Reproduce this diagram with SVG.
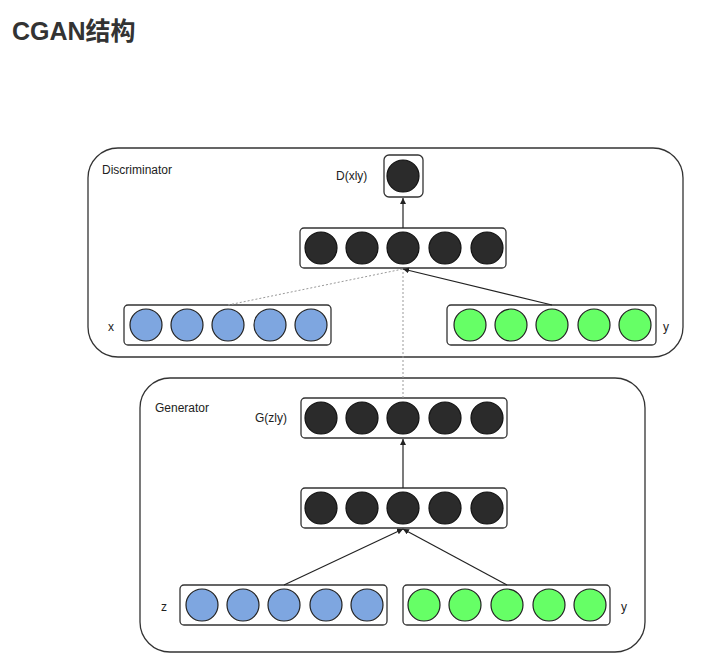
<svg xmlns="http://www.w3.org/2000/svg" width="722" height="662" viewBox="0 0 722 662">
<style>
.t{font-family:"Liberation Sans","Noto Sans CJK SC",sans-serif;font-size:12px;fill:#222}
.box{fill:#fff;stroke:#333;stroke-width:1.3}
.bg{fill:#fff;stroke:#333;stroke-width:1.3}
.k{fill:#2b2b2b;stroke:#111;stroke-width:1.2}
.b{fill:#7ea6e0;stroke:#222;stroke-width:1.2}
.g{fill:#66ff66;stroke:#222;stroke-width:1.2}
.c line{stroke:#222;stroke-width:1.2}
</style>
<defs><marker id="a" viewBox="0 0 6 6" refX="6" refY="3" markerWidth="5" markerHeight="5" orient="auto"><path d="M0,0L6,3L0,6z" fill="#222"/></marker></defs>
<rect width="722" height="662" fill="#fff"/>
<text x="12" y="40" font-family="Liberation Sans,Noto Sans CJK SC,sans-serif" font-size="25" font-weight="bold" fill="#333">CGAN结构</text>
<g id="disc"><rect class="bg" x="88" y="148" width="595" height="209" rx="30"/><text class="t" x="102" y="174">Discriminator</text></g>
<g id="gen"><rect class="bg" x="140" y="378" width="505" height="274" rx="30"/><text class="t" x="155" y="412">Generator</text></g>
<g id="dout"><rect class="box" x="384" y="155" width="39" height="42" rx="5"/><circle class="k" cx="403" cy="176" r="16"/><text class="t" x="336" y="180">D(xly)</text></g>
<g id="dhid"><rect class="box" x="300" y="228" width="206" height="40" rx="4"/><g class="k"><circle cx="321" cy="248" r="16"/><circle cx="362" cy="248" r="16"/><circle cx="403" cy="248" r="16"/><circle cx="445" cy="248" r="16"/><circle cx="487" cy="248" r="16"/></g></g>
<g id="dx"><rect class="box" x="124" y="305" width="207" height="40" rx="4"/><g class="b"><circle cx="146" cy="325" r="16"/><circle cx="187" cy="325" r="16"/><circle cx="228" cy="325" r="16"/><circle cx="270" cy="325" r="16"/><circle cx="311" cy="325" r="16"/></g><text class="t" x="108" y="331">x</text></g>
<g id="dy"><rect class="box" x="447" y="305" width="209" height="40" rx="4"/><g class="g"><circle cx="470" cy="325" r="16"/><circle cx="511" cy="325" r="16"/><circle cx="552" cy="325" r="16"/><circle cx="594" cy="325" r="16"/><circle cx="635" cy="325" r="16"/></g><text class="t" x="663" y="331">y</text></g>
<g id="gout"><rect class="box" x="301" y="398" width="206" height="40" rx="4"/><g class="k"><circle cx="321" cy="418" r="16"/><circle cx="362" cy="418" r="16"/><circle cx="403" cy="418" r="16"/><circle cx="445" cy="418" r="16"/><circle cx="487" cy="418" r="16"/></g><text class="t" x="255" y="422">G(zly)</text></g>
<g id="ghid"><rect class="box" x="301" y="488" width="206" height="40" rx="4"/><g class="k"><circle cx="321" cy="508" r="16"/><circle cx="362" cy="508" r="16"/><circle cx="403" cy="508" r="16"/><circle cx="445" cy="508" r="16"/><circle cx="487" cy="508" r="16"/></g></g>
<g id="gz"><rect class="box" x="180" y="585" width="207" height="40" rx="4"/><g class="b"><circle cx="202" cy="605" r="16"/><circle cx="243" cy="605" r="16"/><circle cx="284" cy="605" r="16"/><circle cx="326" cy="605" r="16"/><circle cx="367" cy="605" r="16"/></g><text class="t" x="161" y="611">z</text></g>
<g id="gy"><rect class="box" x="403" y="585" width="207" height="40" rx="4"/><g class="g"><circle cx="424" cy="605" r="16"/><circle cx="465" cy="605" r="16"/><circle cx="507" cy="605" r="16"/><circle cx="549" cy="605" r="16"/><circle cx="590" cy="605" r="16"/></g><text class="t" x="621" y="611">y</text></g>
<g class="c" id="connectors">
<line x1="284" y1="585" x2="403" y2="529" marker-end="url(#a)"/>
<line x1="507" y1="585" x2="403" y2="529" marker-end="url(#a)"/>
<line x1="403" y1="488" x2="403" y2="439" marker-end="url(#a)"/>
<line x1="403" y1="398" x2="403" y2="269" style="stroke:#999;stroke-width:1" stroke-dasharray="2,2"/>
<line x1="228" y1="305" x2="403" y2="269" style="stroke:#999;stroke-width:1" stroke-dasharray="2,2"/>
<line x1="552" y1="305" x2="403" y2="269" marker-end="url(#a)"/>
<line x1="403" y1="228" x2="403" y2="198" marker-end="url(#a)"/>
</g>
</svg>
